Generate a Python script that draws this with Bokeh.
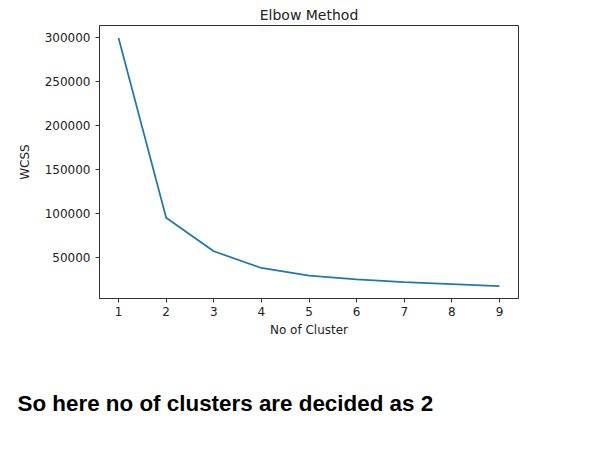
from bokeh.plotting import figure
from bokeh.models import FixedTicker, BasicTickFormatter, Title, Range1d
from bokeh.embed import file_html
from bokeh.resources import INLINE

clusters = [1, 2, 3, 4, 5, 6, 7, 8, 9]
wcss = [300000, 95700, 57600, 38600, 29900, 25700, 22600, 20300, 18000]
x_ticks = [1, 2, 3, 4, 5, 6, 7, 8, 9]
y_ticks = [50000, 100000, 150000, 200000, 250000, 300000]
title_text = "Elbow Method"
x_label = "No of Cluster"
y_label = "WCSS"
note_text = "So here no of clusters are decided as 2"

p = figure(width=600, height=442, output_backend="svg", toolbar_location=None,
           x_range=Range1d(0.6, 9.4), y_range=Range1d(3900, 314100),
           min_border_left=99, min_border_right=82, min_border_top=25, min_border_bottom=144)
p.title.text = title_text
p.title.align = "center"
p.title.text_font = "DejaVu Sans"
p.title.text_font_size = "14px"
p.title.text_font_style = "normal"
p.title.text_color = "#222222"
p.title.standoff = 6

p.line(clusters, wcss, line_color="#1f77b4", line_width=1.75)

p.grid.visible = False
p.outline_line_color = "#333333"
p.outline_line_width = 1
p.outline_line_alpha = 1

for ax in (p.xaxis[0], p.yaxis[0]):
    ax.axis_line_color = "#333333"
    ax.major_tick_line_color = "#333333"
    ax.minor_tick_line_color = None
    ax.major_tick_out = 4
    ax.major_tick_in = 0
    ax.major_label_text_font = "DejaVu Sans"
    ax.major_label_text_font_size = "12px"
    ax.major_label_text_color = "#222222"
    ax.axis_label_text_font = "DejaVu Sans"
    ax.axis_label_text_font_size = "12px"
    ax.axis_label_text_font_style = "normal"
    ax.axis_label_text_color = "#222222"

p.xaxis.ticker = FixedTicker(ticks=x_ticks)
p.yaxis.ticker = FixedTicker(ticks=y_ticks)
p.yaxis.formatter = BasicTickFormatter(use_scientific=False)
p.xaxis.axis_label = x_label
p.yaxis.axis_label = y_label
p.xaxis.axis_label_standoff = 4
p.yaxis.axis_label_standoff = 10
p.xaxis.major_label_standoff = 4
p.yaxis.major_label_standoff = 5

spacer = Title(text=" ", text_font_size="1px", standoff=46)
p.add_layout(spacer, "below")

note = Title(text=note_text, align="left", offset=-82, standoff=0,
             text_font="Liberation Sans", text_font_size="22.4px", text_font_style="bold",
             text_color="black")
p.add_layout(note, "below")

open("out.html", "w").write(file_html(p, INLINE))
